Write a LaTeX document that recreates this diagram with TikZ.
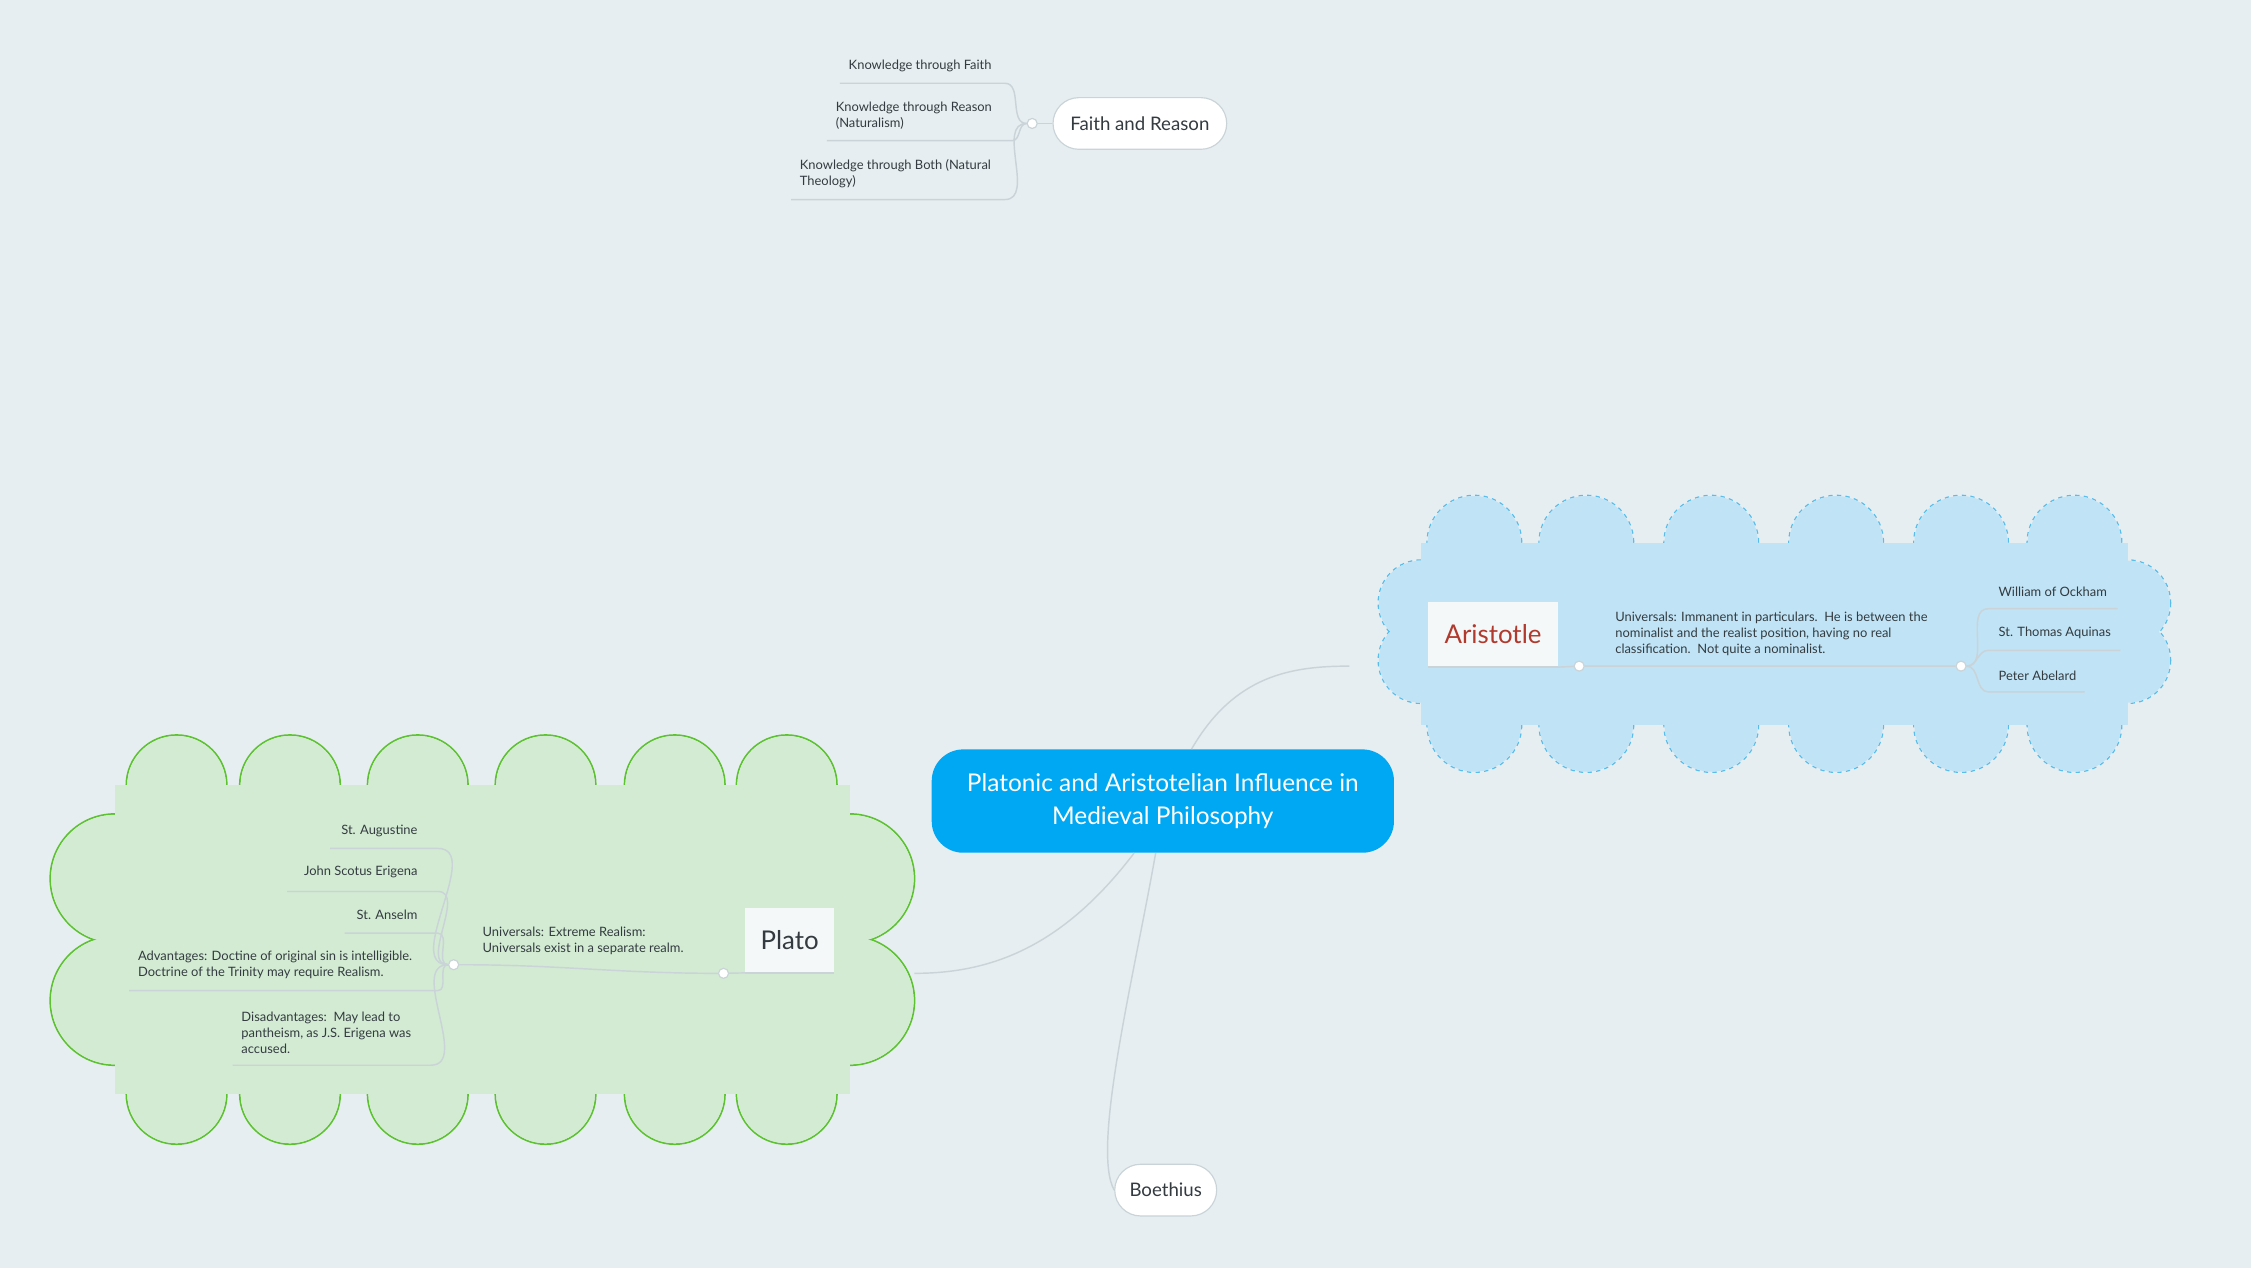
\documentclass[tikz,border=0pt]{standalone}
\usepackage{fontspec}
\setmainfont{Lato}
\usetikzlibrary{positioning}
\definecolor{bgc}{HTML}{E7EEF1}
\definecolor{linec}{HTML}{C9D3D8}
\definecolor{mainc}{HTML}{00A8F3}
\definecolor{greenf}{HTML}{D3EBD3}
\definecolor{greend}{HTML}{5CC22F}
\definecolor{bluef}{HTML}{C0E3F5}
\definecolor{blued}{HTML}{58BDEB}
\definecolor{txt}{HTML}{333B40}
\definecolor{redt}{HTML}{B03A2E}
\begin{document}
\begin{tikzpicture}[x=1pt,y=-1pt,
    conn/.style = {draw=linec, line width=1pt},
    hubdot/.style = {circle, draw=linec, fill=white, line width=0.8pt, inner sep=0pt, minimum size=7pt},
    small/.style = {inner sep=0pt, text=txt, font=\fontsize{9}{11}\selectfont, align=left},
    pill/.style = {draw=linec, fill=white, rounded corners=18pt, minimum height=36pt, text=txt, font=\fontsize{13}{15}\selectfont, line width=0.8pt},
    topic/.style = {fill=bgc!40!white, minimum height=45pt, font=\fontsize{18}{20}\selectfont}
  ]
  \fill[bgc] (0,0) rectangle (1568,883);
  \useasboundingbox (0,0) rectangle (1568,883);

  % green cloud
  \foreach \cx/\cy/\r in {123/547/35, 202/547/35, 291/547/35, 380/547/35, 470/547/35, 548/547/35,
                          123/762/35, 202/762/35, 291/762/35, 380/762/35, 470/762/35, 548/762/35,
                          80/612/45, 80/697/45, 592/612/45, 592/697/45}
    \draw[greend, line width=1.2pt] (\cx,\cy) circle (\r);
  \foreach \cx/\cy/\r in {123/547/35, 202/547/35, 291/547/35, 380/547/35, 470/547/35, 548/547/35,
                          123/762/35, 202/762/35, 291/762/35, 380/762/35, 470/762/35, 548/762/35,
                          80/612/45, 80/697/45, 592/612/45, 592/697/45}
    \fill[greenf] (\cx,\cy) circle (\r-0.6);
  \fill[greenf] (80,547) rectangle (592,762);

  % blue cloud
  \foreach \cx/\cy/\r in {1027/378/33, 1105/378/33, 1192/378/33, 1279/378/33, 1366/378/33, 1445/378/33,
                          1027/505/33, 1105/505/33, 1192/505/33, 1279/505/33, 1366/505/33, 1445/505/33,
                          990/420/30, 990/460/30, 1482/420/30, 1482/460/30}
    \draw[blued, line width=0.9pt, dashed] (\cx,\cy) circle (\r);
  \foreach \cx/\cy/\r in {1027/378/33, 1105/378/33, 1192/378/33, 1279/378/33, 1366/378/33, 1445/378/33,
                          1027/505/33, 1105/505/33, 1192/505/33, 1279/505/33, 1366/505/33, 1445/505/33,
                          990/420/30, 990/460/30, 1482/420/30, 1482/460/30}
    \fill[bluef] (\cx,\cy) circle (\r-0.5);
  \fill[bluef] (990,378) rectangle (1482,505);

  % main topic
  \node[fill=mainc, rounded corners=22pt, minimum width=322pt, minimum height=72pt, text=white,
        align=center, font=\fontsize{17}{23}\selectfont] (main) at (810,558)
        {Platonic and Aristotelian Influence in\\Medieval Philosophy};

  % Aristotle
  \node[topic, minimum width=90pt, text=redt] (arist) at (1040,442) {Aristotle};
  \draw[linec, line width=1.5pt] (arist.south west) -- (arist.south east);
  \coordinate (aristin) at (940,464);
  \draw[conn] (main.north) ++(20,0) .. controls (860,470) and (900,464) .. (aristin);
  \node[hubdot] (ahub1) at (1100,464) {};
  \node[hubdot] (ahub2) at (1366,464) {};
  \draw[conn] (arist.south east) -- (ahub1) -- (ahub2);
  \node[small, anchor=south west] (auniv) at (1125,457)
    {Universals: Immanent in particulars.\ \ He is between the\\nominalist and the realist position, having no real\\classification.\ \ Not quite a nominalist.};
  \node[small, anchor=south west] (ockham) at (1392,416) {William of Ockham};
  \node[small, anchor=south west] (aquinas) at (1392,445) {St. Thomas Aquinas};
  \node[small, anchor=south west] (abelard) at (1392,474) {Peter Abelard};
  \foreach \n/\y/\e in {ockham/424/1475, aquinas/453/1477, abelard/482/1452} {
    \coordinate (\n a) at (1385,\y);
    \coordinate (\n b) at (\e,\y);
    \draw[conn] (ahub2) to[out=0,in=180] (\n a) -- (\n b);
  }

  % Plato
  \node[topic, minimum width=62pt, text=txt] (plato) at (550,655) {Plato};
  \draw[linec, line width=1.5pt] (plato.south west) -- (plato.south east);
  \coordinate (platoin) at (637,678);
  \draw[conn] (main.south) ++(-20,0) .. controls (740,660) and (690,678) .. (platoin);
  \node[hubdot] (phub1) at (504,678) {};
  \node[hubdot] (phub2) at (316,672) {};
  \draw[conn] (plato.south west) -- (phub1) to[out=180,in=0] (phub2);
  \node[small, anchor=south west] (puniv) at (336,665)
    {Universals: Extreme Realism:\\Universals exist in a separate realm.};
  \node[small, anchor=south east] (august) at (291,583) {St. Augustine};
  \node[small, anchor=south east] (erigena) at (291,612) {John Scotus Erigena};
  \node[small, anchor=south east] (anselm) at (291,641) {St. Anselm};
  \node[small, anchor=south west] (advant) at (96,682)
    {Advantages: Doctine of original sin is intelligible.\\Doctrine of the Trinity may require Realism.};
  \node[small, anchor=south west] (disadv) at (168,734)
    {Disadvantages:\ \ May lead to\\pantheism, as J.S. Erigena was\\accused.};
  \foreach \n/\y/\s/\e in {august/591/230/305, erigena/621/200/305, anselm/650/240/305, advant/690/90/305, disadv/742/162/300} {
    \coordinate (\n a) at (\e,\y);
    \coordinate (\n b) at (\s,\y);
    \draw[conn] (phub2) to[out=180,in=0] (\n a) -- (\n b);
  }

  % Boethius
  \node[pill, minimum width=71pt] (boeth) at (812,829) {Boethius};
  \draw[conn] (main.south) ++(-5,0) .. controls (790,680) and (760,800) .. (boeth.west);

  % Faith and Reason
  \node[pill, minimum width=121pt] (faith) at (794,86) {Faith and Reason};
  \node[hubdot] (fhub) at (719,86) {};
  \draw[conn] (faith.west) -- (fhub);
  \node[small, anchor=south west] (kfaith) at (591,50) {Knowledge through Faith};
  \node[small, anchor=south west] (kreason) at (582,90) {Knowledge through Reason\\(Naturalism)};
  \node[small, anchor=south west] (kboth) at (557,131) {Knowledge through Both (Natural\\Theology)};
  \foreach \n/\y/\s/\e in {kfaith/58/585/700, kreason/98/576/705, kboth/139/551/700} {
    \coordinate (\n a) at (\e,\y);
    \coordinate (\n b) at (\s,\y);
    \draw[conn] (fhub) to[out=180,in=0] (\n a) -- (\n b);
  }
\end{tikzpicture}
\end{document}
